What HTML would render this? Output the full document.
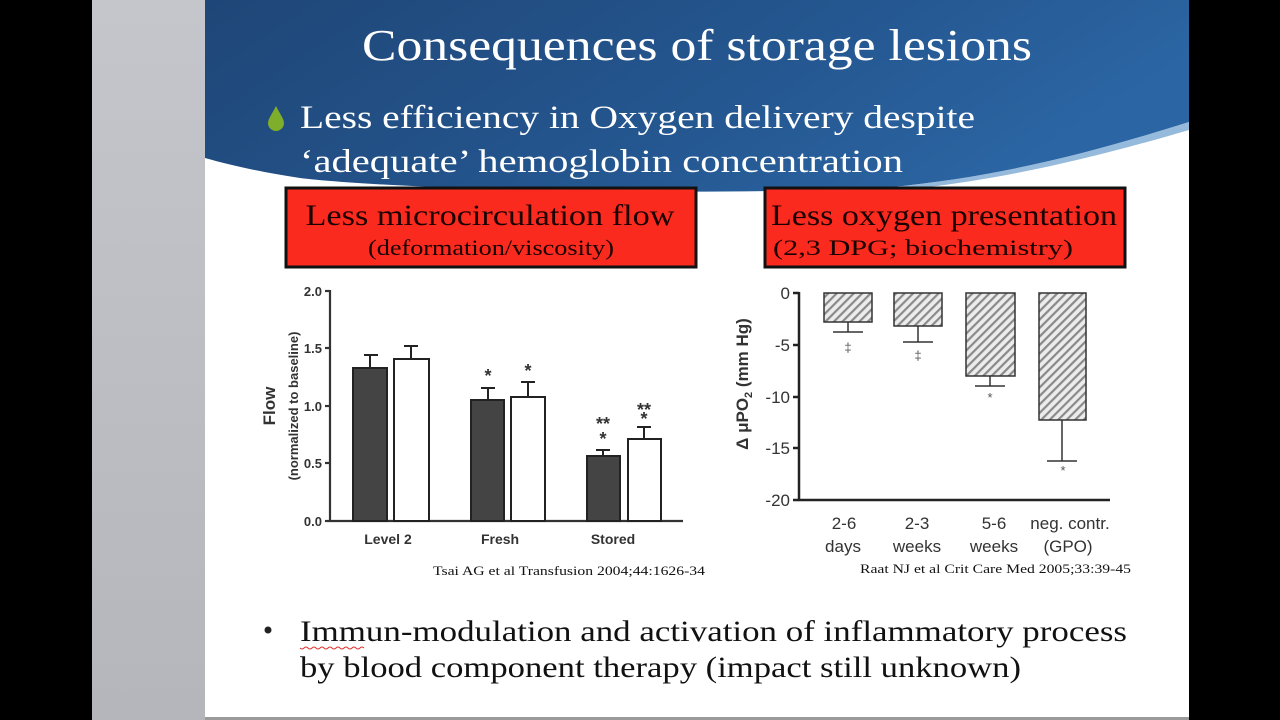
<!DOCTYPE html>
<html><head><meta charset="utf-8"><style>
html,body{margin:0;padding:0;background:#000;width:1280px;height:720px;overflow:hidden}
svg{display:block}
</style></head><body>
<svg width="1280" height="720" viewBox="0 0 1280 720" xmlns="http://www.w3.org/2000/svg" font-family="Liberation Serif, serif">
<defs>
<linearGradient id="gr" x1="0" y1="0" x2="0" y2="1"><stop offset="0" stop-color="#c4c6cc"/><stop offset="1" stop-color="#b4b6bc"/></linearGradient>
<linearGradient id="bl" x1="0" y1="0" x2="1" y2="0.3"><stop offset="0" stop-color="#1f4677"/><stop offset="0.6" stop-color="#24568f"/><stop offset="1" stop-color="#2b65a3"/></linearGradient>
<pattern id="hatch" width="6" height="6" patternUnits="userSpaceOnUse" patternTransform="rotate(45)">
<rect width="6" height="6" fill="#ececec"/><rect x="0" y="0" width="2.2" height="6" fill="#8a8a8a"/></pattern>
</defs>
<rect x="0" y="0" width="1280" height="720" fill="#000"/>
<rect x="92" y="0" width="113" height="720" fill="url(#gr)"/>
<rect x="205" y="0" width="984" height="718" fill="#fff"/>
<rect x="205" y="717" width="984" height="3" fill="#9a9a9a"/>
<path d="M205 0 H1189 V122 C1100 150 1000 178 880 188 C700 196 400 190 300 178 C260 172 230 165 205 158 Z" fill="url(#bl)"/>
<path d="M1189 122 C1100 150 1000 178 880 188 L880 192 C1000 182 1100 156 1189 130 Z" fill="#6a9ccc" opacity="0.7"/>
<text x="697" y="60" font-size="44" fill="#fff" text-anchor="middle" textLength="670" lengthAdjust="spacingAndGlyphs">Consequences of storage lesions</text>
<path d="M276 106 C272 114 268 119 268 123 A8 8 0 0 0 284 123 C284 119 280 114 276 106 Z" fill="#7fae2a"/>
<text x="300" y="128" font-size="33" fill="#fff" textLength="675" lengthAdjust="spacingAndGlyphs">Less efficiency in Oxygen delivery despite</text>
<text x="300" y="172" font-size="33" fill="#fff" textLength="603" lengthAdjust="spacingAndGlyphs">‘adequate’ hemoglobin concentration</text>
<!-- red boxes -->
<rect x="286" y="188" width="410" height="79" fill="#fb2a1e" stroke="#111" stroke-width="3"/>
<text x="490" y="225" font-size="30" fill="#1a0000" text-anchor="middle" textLength="369" lengthAdjust="spacingAndGlyphs">Less microcirculation flow</text>
<text x="491" y="255" font-size="22" fill="#1a0000" text-anchor="middle" textLength="246" lengthAdjust="spacingAndGlyphs">(deformation/viscosity)</text>
<rect x="765" y="188" width="360" height="79" fill="#fb2a1e" stroke="#111" stroke-width="3"/>
<text x="944" y="225" font-size="30" fill="#1a0000" text-anchor="middle" textLength="346" lengthAdjust="spacingAndGlyphs">Less oxygen presentation</text>
<text x="923" y="255" font-size="22" fill="#1a0000" text-anchor="middle" textLength="300" lengthAdjust="spacingAndGlyphs">(2,3 DPG; biochemistry)</text>
<!-- chart 1 -->
<g font-family="Liberation Sans, sans-serif" fill="#333">
<g stroke="#333" stroke-width="2.2">
<line x1="330" y1="290" x2="330" y2="522"/><line x1="329" y1="521" x2="683" y2="521"/>
<line x1="325" y1="291" x2="330" y2="291"/><line x1="325" y1="348" x2="330" y2="348"/><line x1="325" y1="406" x2="330" y2="406"/><line x1="325" y1="463" x2="330" y2="463"/><line x1="325" y1="521" x2="330" y2="521"/>
</g>
<g font-size="13" font-weight="bold" text-anchor="end">
<text x="322" y="296">2.0</text><text x="322" y="353">1.5</text><text x="322" y="411">1.0</text><text x="322" y="468">0.5</text><text x="322" y="526">0.0</text></g>
<text transform="translate(275 406) rotate(-90)" font-size="17" font-weight="bold" text-anchor="middle">Flow</text>
<text transform="translate(298 406) rotate(-90)" font-size="13" font-weight="bold" text-anchor="middle">(normalized to baseline)</text>
<g stroke="#222" stroke-width="2">
<line x1="370" y1="368" x2="370" y2="355"/><line x1="364" y1="355" x2="378" y2="355"/>
<line x1="411" y1="359" x2="411" y2="346"/><line x1="404" y1="346" x2="418" y2="346"/>
<line x1="488" y1="400" x2="488" y2="388"/><line x1="481" y1="388" x2="495" y2="388"/>
<line x1="528" y1="397" x2="528" y2="382"/><line x1="521" y1="382" x2="535" y2="382"/>
<line x1="603" y1="456" x2="603" y2="450"/><line x1="596" y1="450" x2="610" y2="450"/>
<line x1="644" y1="439" x2="644" y2="427"/><line x1="637" y1="427" x2="651" y2="427"/>
<rect x="353" y="368" width="34" height="153" fill="#444"/>
<rect x="394" y="359" width="35" height="162" fill="#fff"/>
<rect x="471" y="400" width="33" height="121" fill="#444"/>
<rect x="511" y="397" width="34" height="124" fill="#fff"/>
<rect x="587" y="456" width="33" height="65" fill="#444"/>
<rect x="628" y="439" width="33" height="82" fill="#fff"/>
</g>
<g font-size="18" font-weight="bold" text-anchor="middle">
<text x="488" y="382">*</text><text x="528" y="377">*</text>
<text x="603" y="430">**</text><text x="603" y="445">*</text>
<text x="644" y="416">**</text><text x="644" y="425">*</text></g>
<g font-size="14" font-weight="bold" text-anchor="middle">
<text x="388" y="544">Level 2</text><text x="500" y="544">Fresh</text><text x="613" y="544">Stored</text></g>
</g>
<text x="433" y="575" font-size="13" fill="#111" textLength="272" lengthAdjust="spacingAndGlyphs">Tsai AG et al Transfusion 2004;44:1626-34</text>
<!-- chart 2 -->
<g font-family="Liberation Sans, sans-serif" fill="#333">
<g stroke="#222" stroke-width="2.5">
<line x1="799" y1="292" x2="799" y2="501"/><line x1="798" y1="500" x2="1110" y2="500"/>
<line x1="793" y1="293" x2="799" y2="293"/><line x1="793" y1="345" x2="799" y2="345"/><line x1="793" y1="397" x2="799" y2="397"/><line x1="793" y1="448" x2="799" y2="448"/><line x1="793" y1="500" x2="799" y2="500"/>
</g>
<g font-size="17" text-anchor="end">
<text x="790" y="299">0</text><text x="790" y="351">-5</text><text x="790" y="403">-10</text><text x="790" y="454">-15</text><text x="790" y="506">-20</text></g>
<text transform="translate(748 384) rotate(-90)" font-size="17" font-weight="bold" text-anchor="middle">Δ μPO<tspan font-size="11" dy="4">2</tspan><tspan dy="-4"> (mm Hg)</tspan></text>
<g stroke="#333" stroke-width="1.5">
<line x1="848" y1="322" x2="848" y2="332"/><line x1="833" y1="332" x2="863" y2="332"/>
<line x1="918" y1="326" x2="918" y2="342"/><line x1="903" y1="342" x2="933" y2="342"/>
<line x1="990" y1="376" x2="990" y2="386"/><line x1="975" y1="386" x2="1005" y2="386"/>
<line x1="1062" y1="420" x2="1062" y2="461"/><line x1="1047" y1="461" x2="1077" y2="461"/>
<rect x="824" y="293" width="48" height="29" fill="url(#hatch)"/>
<rect x="894" y="293" width="48" height="33" fill="url(#hatch)"/>
<rect x="966" y="293" width="49" height="83" fill="url(#hatch)"/>
<rect x="1039" y="293" width="47" height="127" fill="url(#hatch)"/>
</g>
<g font-size="13" text-anchor="middle" fill="#555">
<text x="848" y="352">‡</text><text x="918" y="360">‡</text><text x="990" y="402">*</text><text x="1063" y="475">*</text></g>
<g font-size="17" text-anchor="middle">
<text x="844" y="529">2-6</text><text x="843" y="552">days</text>
<text x="917" y="529">2-3</text><text x="917" y="552">weeks</text>
<text x="994" y="529">5-6</text><text x="994" y="552">weeks</text>
<text x="1070" y="529">neg. contr.</text><text x="1068" y="552">(GPO)</text></g>
</g>
<text x="860" y="573" font-size="13" fill="#111" textLength="271" lengthAdjust="spacingAndGlyphs">Raat NJ et al Crit Care Med 2005;33:39-45</text>
<!-- bottom bullet -->
<circle cx="268" cy="630" r="3.5" fill="#222"/>
<text x="300" y="641" font-size="30" fill="#111" textLength="827" lengthAdjust="spacingAndGlyphs">Immun-modulation and activation of inflammatory process</text>
<text x="300" y="677" font-size="30" fill="#111" textLength="721" lengthAdjust="spacingAndGlyphs">by blood component therapy (impact still unknown)</text>
<path d="M300 648 q2 2 4 0 t4 0 t4 0 t4 0 t4 0 t4 0 t4 0 t4 0 t4 0 t4 0 t4 0 t4 0 t4 0 t4 0 t4 0 t4 0" stroke="#d33" stroke-width="1" fill="none"/>
</svg>
</body></html>
